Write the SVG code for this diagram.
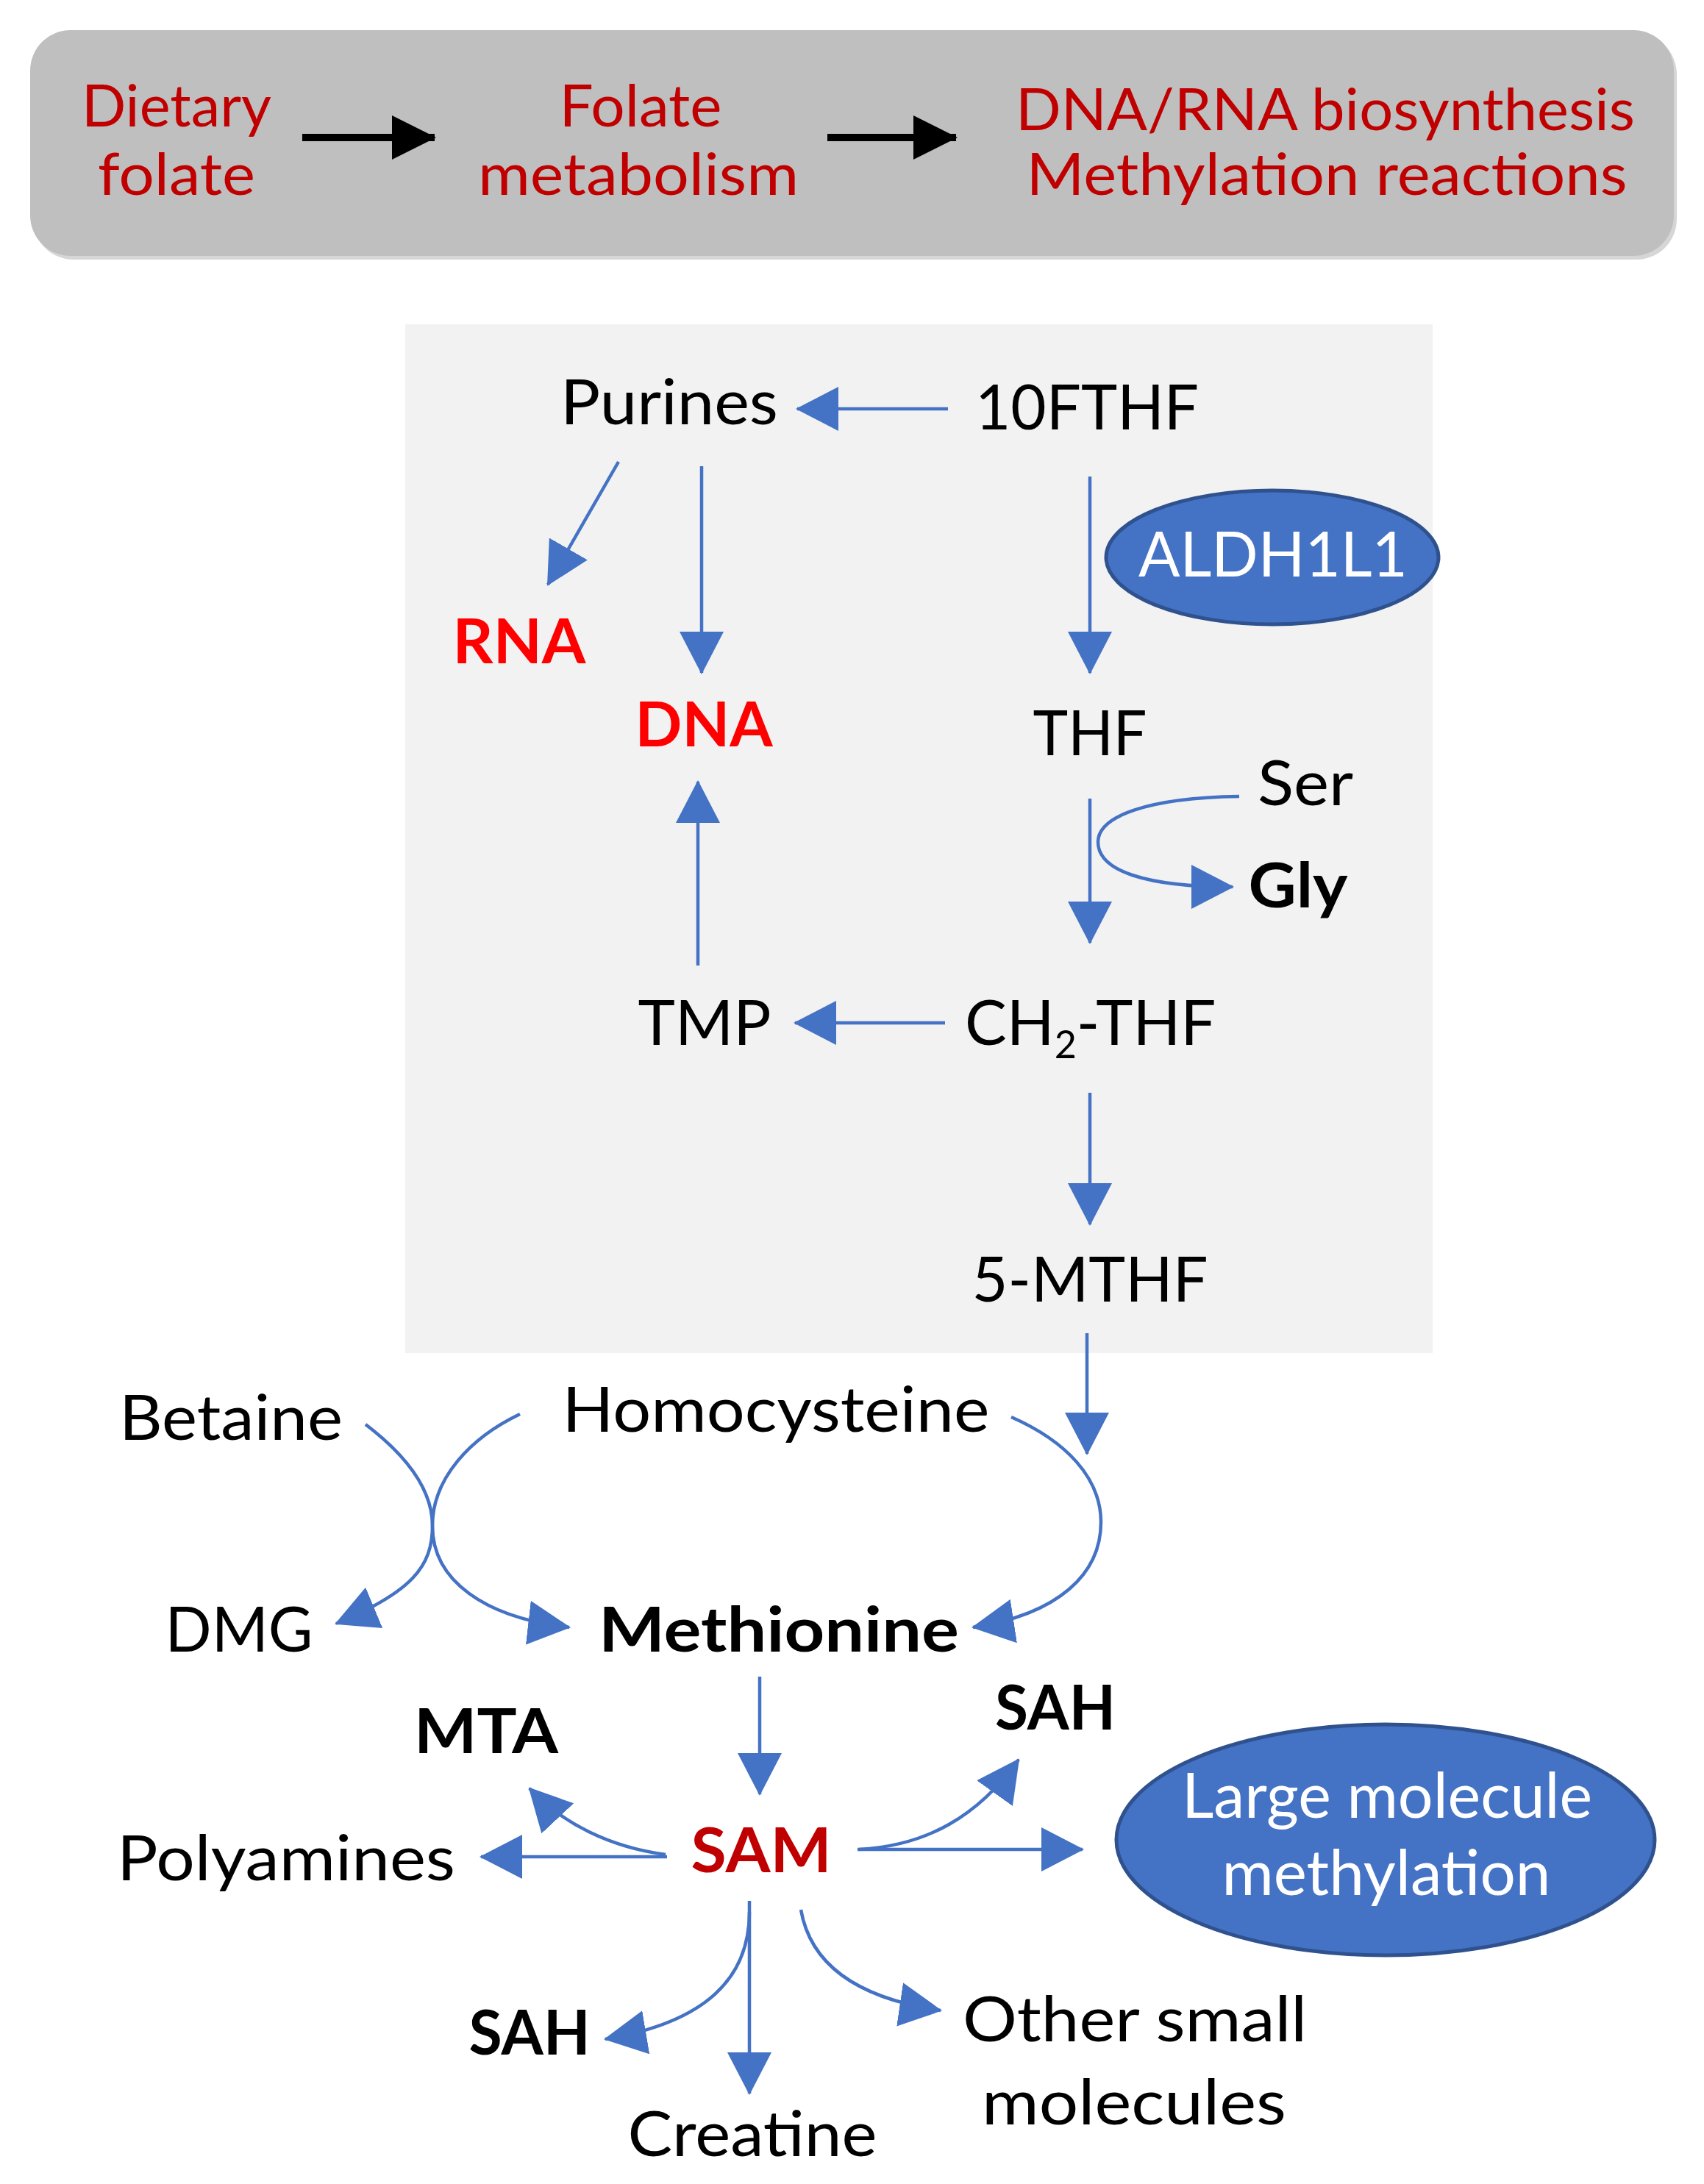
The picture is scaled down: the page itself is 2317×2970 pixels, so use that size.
<svg xmlns="http://www.w3.org/2000/svg" width="2317" height="2970" viewBox="0 0 2317 2970">
<style>
.t{font-family:Lato,"Open Sans","Liberation Sans",sans-serif;font-size:85px;fill:#000;text-anchor:middle}
.top{font-size:80px;fill:#C00000}
.b{font-weight:bold}
.red{fill:#FF0000}
.dred{fill:#C00000}
.w{fill:#fff}
.c{fill:none;stroke:#4472C4;stroke-width:4.5}
.k{fill:none;stroke:#000;stroke-width:10}
</style>
<defs>
<marker id="ah" markerUnits="userSpaceOnUse" viewBox="0 0 58 60" markerWidth="58" markerHeight="60" refX="56" refY="30" orient="auto">
<path d="M0,0 L58,30 L0,60 z" fill="#4472C4"/>
</marker>
<marker id="ak" markerUnits="userSpaceOnUse" viewBox="0 0 60 60" markerWidth="60" markerHeight="60" refX="58" refY="30" orient="auto">
<path d="M0,0 L60,30 L0,60 z" fill="#000"/>
</marker>
</defs>
<rect width="2317" height="2970" fill="#fff"/>
<g id="header">
<rect x="45" y="46" width="2235" height="307" rx="55" fill="#d6d6d6"/>
<rect x="41" y="41" width="2235" height="307" rx="55" fill="#BFBFBF"/>
</g>
<rect id="folate-panel" x="551" y="441" width="1397" height="1399" fill="#F2F2F2"/>
<g id="connectors">
<path class="k" d="M411,187 L591,187" marker-end="url(#ak)"/>
<path class="k" d="M1125,187 L1300,187" marker-end="url(#ak)"/>
<path class="c" d="M1289,556 L1084,556" marker-end="url(#ah)"/>
<path class="c" d="M841,628 L745,795" marker-end="url(#ah)"/>
<path class="c" d="M954,634 L954,915" marker-end="url(#ah)"/>
<path class="c" d="M1482,648 L1482,915" marker-end="url(#ah)"/>
<path class="c" d="M1482,1086 L1482,1282" marker-end="url(#ah)"/>
<path class="c" d="M1685,1083 C1560,1085 1493,1110 1493,1145 C1493,1185 1560,1206 1676,1206" marker-end="url(#ah)"/>
<path class="c" d="M1285,1391 L1081,1391" marker-end="url(#ah)"/>
<path class="c" d="M949,1313 L949,1063" marker-end="url(#ah)"/>
<path class="c" d="M1482,1486 L1482,1665" marker-end="url(#ah)"/>
<path class="c" d="M1478,1813 L1478,1977" marker-end="url(#ah)"/>
<path class="c" d="M497,1937 C560,1985 588,2030 588,2075 C588,2150 660,2200 774,2213" marker-end="url(#ah)"/>
<path class="c" d="M707,1923 C640,1955 588,2010 588,2075 C588,2130 560,2165 457,2208" marker-end="url(#ah)"/>
<path class="c" d="M1375,1927 C1450,1960 1497,2010 1497,2070 C1497,2140 1440,2195 1323,2213" marker-end="url(#ah)"/>
<path class="c" d="M1033,2280 L1033,2440" marker-end="url(#ah)"/>
<path class="c" d="M907,2525 L654,2525" marker-end="url(#ah)"/>
<path class="c" d="M905,2522 C830,2512 765,2480 720,2432" marker-end="url(#ah)"/>
<path class="c" d="M1168,2515 C1260,2510 1330,2470 1385,2393" marker-end="url(#ah)"/>
<path class="c" d="M1166,2515 L1472,2515" marker-end="url(#ah)"/>
<path class="c" d="M1019,2585 L1019,2847" marker-end="url(#ah)"/>
<path class="c" d="M1019,2600 C1019,2690 960,2750 823,2773" marker-end="url(#ah)"/>
<path class="c" d="M1089,2597 C1100,2660 1150,2715 1279,2734" marker-end="url(#ah)"/>
</g>
<g id="dietary-folate"><text class="t top" x="240" y="172" textLength="258" lengthAdjust="spacingAndGlyphs">Dietary</text><text class="t top" x="240" y="265" textLength="214" lengthAdjust="spacingAndGlyphs">folate</text></g>
<g id="folate-metabolism"><text class="t top" x="871" y="172" textLength="221" lengthAdjust="spacingAndGlyphs">Folate</text><text class="t top" x="868" y="265" textLength="436" lengthAdjust="spacingAndGlyphs">metabolism</text></g>
<g id="outcomes"><text class="t top" x="1802" y="177" textLength="842" lengthAdjust="spacingAndGlyphs">DNA/RNA biosynthesis</text><text class="t top" x="1804" y="265" textLength="817" lengthAdjust="spacingAndGlyphs">Methylation reactions</text></g>
<g id="purines"><text class="t" x="910" y="577" textLength="296" lengthAdjust="spacingAndGlyphs">Purines</text></g>
<g id="tenfthf"><text class="t" x="1478" y="584" textLength="304" lengthAdjust="spacingAndGlyphs">10FTHF</text></g>
<g id="aldh1l1"><ellipse cx="1730" cy="758" rx="226" ry="91" fill="#4472C4" stroke="#2F528F" stroke-width="5"/><text class="t w" x="1731" y="784" textLength="366" lengthAdjust="spacingAndGlyphs">ALDH1L1</text></g>
<g id="rna"><text class="t b red" x="706" y="902" textLength="181" lengthAdjust="spacingAndGlyphs">RNA</text></g>
<g id="dna"><text class="t b red" x="957" y="1015" textLength="187" lengthAdjust="spacingAndGlyphs">DNA</text></g>
<g id="thf"><text class="t" x="1482" y="1027" textLength="155" lengthAdjust="spacingAndGlyphs">THF</text></g>
<g id="ser"><text class="t" x="1775" y="1095" textLength="130" lengthAdjust="spacingAndGlyphs">Ser</text></g>
<g id="gly"><text class="t b" x="1765" y="1234" textLength="135" lengthAdjust="spacingAndGlyphs">Gly</text></g>
<g id="tmp"><text class="t" x="958" y="1421" textLength="181" lengthAdjust="spacingAndGlyphs">TMP</text></g>
<g id="ch2thf"><text class="t" x="1312" y="1421" style="text-anchor:start">CH<tspan font-size="52" dy="18">2</tspan><tspan dy="-18">-THF</tspan></text></g>
<g id="mthf"><text class="t" x="1482" y="1770" textLength="321" lengthAdjust="spacingAndGlyphs">5-MTHF</text></g>
<g id="betaine"><text class="t" x="314" y="1958" textLength="304" lengthAdjust="spacingAndGlyphs">Betaine</text></g>
<g id="homocysteine"><text class="t" x="1055" y="1947" textLength="581" lengthAdjust="spacingAndGlyphs">Homocysteine</text></g>
<g id="dmg"><text class="t" x="325" y="2246" textLength="201" lengthAdjust="spacingAndGlyphs">DMG</text></g>
<g id="methionine"><text class="t b" x="1059" y="2246" textLength="490" lengthAdjust="spacingAndGlyphs">Methionine</text></g>
<g id="mta"><text class="t b" x="661" y="2384" textLength="196" lengthAdjust="spacingAndGlyphs">MTA</text></g>
<g id="sah-upper"><text class="t b" x="1435" y="2352" textLength="164" lengthAdjust="spacingAndGlyphs">SAH</text></g>
<g id="sam"><text class="t b dred" x="1035" y="2546" textLength="191" lengthAdjust="spacingAndGlyphs">SAM</text></g>
<g id="polyamines"><text class="t" x="389" y="2557" textLength="460" lengthAdjust="spacingAndGlyphs">Polyamines</text></g>
<g id="large-molecule"><ellipse cx="1884" cy="2502" rx="366" ry="157" fill="#4472C4" stroke="#2F528F" stroke-width="5"/><text class="t w" x="1886" y="2472" textLength="558" lengthAdjust="spacingAndGlyphs">Large molecule</text><text class="t w" x="1885" y="2577" textLength="447" lengthAdjust="spacingAndGlyphs">methylation</text></g>
<g id="sah-lower"><text class="t b" x="720" y="2794" textLength="165" lengthAdjust="spacingAndGlyphs">SAH</text></g>
<g id="creatine"><text class="t" x="1023" y="2932" textLength="339" lengthAdjust="spacingAndGlyphs">Creatine</text></g>
<g id="other-small"><text class="t" x="1543" y="2776" textLength="468" lengthAdjust="spacingAndGlyphs">Other small</text><text class="t" x="1542" y="2889" textLength="414" lengthAdjust="spacingAndGlyphs">molecules</text></g>
</svg>
